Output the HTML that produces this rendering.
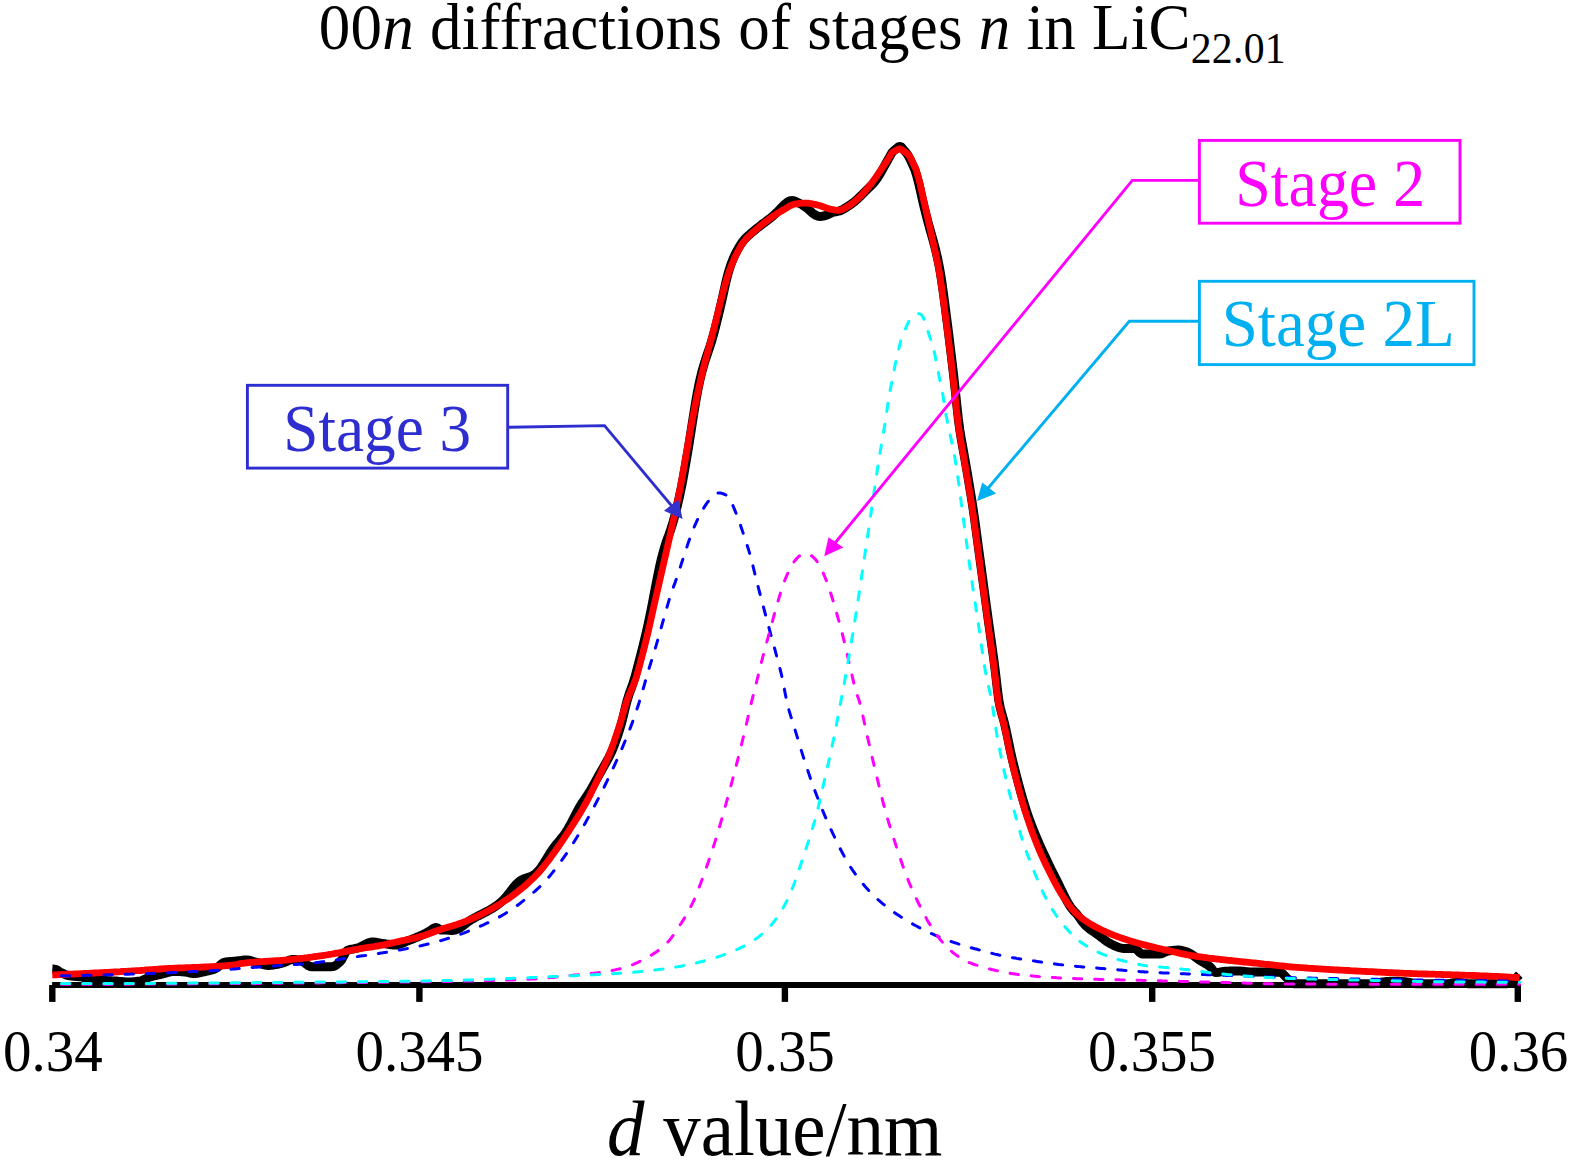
<!DOCTYPE html>
<html><head><meta charset="utf-8"><title>00n diffractions</title>
<style>
html,body{margin:0;padding:0;background:#fff;}
svg{display:block;}
text{font-family:"Liberation Serif",serif;}
</style></head>
<body>
<svg width="1570" height="1160" viewBox="0 0 1570 1160">
<rect width="1570" height="1160" fill="#fff"/>
<!-- axis -->
<g id="axis" stroke="#000" fill="none">
<line x1="52.1" y1="985" x2="1518" y2="985" stroke-width="6.2"/>
<line x1="52.3" y1="985" x2="52.3" y2="1001.9" stroke-width="6.4"/>
<line x1="419.4" y1="985" x2="419.4" y2="1001.9" stroke-width="6.4"/>
<line x1="784.9" y1="985" x2="784.9" y2="1001.9" stroke-width="6.4"/>
<line x1="1152.2" y1="985" x2="1152.2" y2="1001.9" stroke-width="6.4"/>
<line x1="1517.8" y1="985" x2="1517.8" y2="1001.9" stroke-width="6.4"/>
</g>
<!--CURVES-->
<g id="curves" fill="none" stroke-linejoin="round">
<path id="c-black" d="M52.3,969.0 L53.8,969.1 L55.3,969.4 L56.8,969.8 L58.3,970.8 L59.8,971.9 L61.3,972.7 L62.8,973.4 L64.3,974.1 L65.8,974.7 L67.3,975.3 L68.8,975.7 L70.3,975.9 L71.8,976.1 L73.3,976.2 L74.8,976.3 L76.3,976.4 L77.8,976.5 L79.3,976.7 L80.8,976.9 L82.3,977.2 L83.8,977.6 L85.3,978.0 L86.8,978.4 L88.3,978.8 L89.8,979.1 L91.3,979.5 L92.8,979.7 L94.3,979.9 L95.8,980.1 L97.3,980.2 L98.8,980.3 L100.3,980.3 L101.8,980.4 L103.3,980.5 L104.8,980.5 L106.3,980.6 L107.8,980.7 L109.3,980.7 L110.8,980.8 L112.3,980.9 L113.8,980.9 L115.3,981.0 L116.8,981.1 L118.3,981.3 L119.8,981.4 L121.3,981.5 L122.8,981.7 L124.3,981.8 L125.8,981.9 L127.3,982.0 L128.8,982.0 L130.3,982.0 L131.8,981.9 L133.3,981.8 L134.8,981.7 L136.3,981.5 L137.8,981.3 L139.3,981.1 L140.8,980.8 L142.3,980.4 L143.8,979.8 L145.3,979.0 L146.8,978.3 L148.3,977.6 L149.8,977.1 L151.3,976.6 L152.8,976.2 L154.3,975.9 L155.8,975.5 L157.3,975.2 L158.8,974.9 L160.3,974.5 L161.8,974.2 L163.3,973.7 L164.8,973.3 L166.3,972.9 L167.8,972.5 L169.3,972.1 L170.8,971.8 L172.3,971.6 L173.8,971.4 L175.3,971.4 L176.8,971.4 L178.3,971.5 L179.8,971.6 L181.3,971.7 L182.8,971.8 L184.3,971.9 L185.8,972.1 L187.3,972.4 L188.8,972.7 L190.3,973.1 L191.8,973.4 L193.3,973.6 L194.8,973.6 L196.3,973.4 L197.8,973.2 L199.3,972.9 L200.8,972.5 L202.3,972.2 L203.8,971.8 L205.3,971.5 L206.8,971.2 L208.3,970.9 L209.8,970.5 L211.3,970.1 L212.8,969.7 L214.3,969.2 L215.8,968.5 L217.3,967.6 L218.8,966.3 L220.3,965.0 L221.8,963.8 L223.3,962.8 L224.8,962.2 L226.3,962.0 L227.8,961.8 L229.3,961.7 L230.8,961.5 L232.3,961.4 L233.8,961.3 L235.3,961.2 L236.8,961.0 L238.3,960.8 L239.8,960.6 L241.3,960.4 L242.8,960.2 L244.3,960.1 L245.8,960.0 L247.3,960.0 L248.8,960.2 L250.3,960.5 L251.8,960.9 L253.3,961.4 L254.8,961.9 L256.3,962.3 L257.8,962.7 L259.3,963.2 L260.8,963.7 L262.3,964.2 L263.8,964.7 L265.3,965.1 L266.8,965.3 L268.3,965.4 L269.8,965.4 L271.3,965.2 L272.8,965.1 L274.3,964.8 L275.8,964.6 L277.3,964.3 L278.8,964.0 L280.3,963.6 L281.8,963.3 L283.3,962.8 L284.8,962.2 L286.3,961.6 L287.8,960.9 L289.3,960.3 L290.8,959.8 L292.3,959.5 L293.8,959.4 L295.3,959.5 L296.8,959.8 L298.3,960.1 L299.8,960.5 L301.3,961.0 L302.8,961.7 L304.3,962.6 L305.8,963.8 L307.3,964.9 L308.8,965.9 L310.3,966.5 L311.8,966.7 L313.3,966.7 L314.8,966.7 L316.3,966.7 L317.8,966.7 L319.3,966.7 L320.8,966.7 L322.3,966.7 L323.8,966.7 L325.3,966.7 L326.8,966.7 L328.3,966.7 L329.8,966.7 L331.3,966.7 L332.8,966.6 L334.3,966.2 L335.8,965.3 L337.3,964.2 L338.8,962.9 L340.3,961.5 L341.8,959.7 L343.3,956.8 L344.8,953.7 L346.3,951.3 L347.8,950.2 L349.3,949.7 L350.8,949.3 L352.3,949.1 L353.8,948.8 L355.3,948.5 L356.8,948.2 L358.3,947.7 L359.8,947.1 L361.3,946.4 L362.8,945.6 L364.3,944.8 L365.8,944.1 L367.3,943.3 L368.8,942.8 L370.3,942.3 L371.8,942.0 L373.3,942.0 L374.8,942.1 L376.3,942.3 L377.8,942.6 L379.3,942.9 L380.8,943.2 L382.3,943.4 L383.8,943.6 L385.3,943.8 L386.8,944.1 L388.3,944.3 L389.8,944.5 L391.3,944.7 L392.8,944.9 L394.3,945.0 L395.8,945.0 L397.3,944.9 L398.8,944.5 L400.3,944.0 L401.8,943.5 L403.3,942.8 L404.8,942.1 L406.3,941.4 L407.8,940.8 L409.3,940.2 L410.8,939.7 L412.3,939.1 L413.8,938.5 L415.3,937.9 L416.8,937.3 L418.3,936.7 L419.8,936.0 L421.3,935.4 L422.8,934.6 L424.3,933.9 L425.8,933.1 L427.3,932.3 L428.8,931.4 L430.3,930.6 L431.8,929.6 L433.3,928.5 L434.8,927.7 L436.3,927.5 L437.8,928.2 L439.3,929.3 L440.8,930.1 L442.3,930.1 L443.8,930.0 L445.3,930.0 L446.8,930.1 L448.3,930.2 L449.8,930.3 L451.3,930.4 L452.8,930.4 L454.3,930.2 L455.8,929.8 L457.3,929.3 L458.8,928.5 L460.3,927.7 L461.8,926.6 L463.3,925.5 L464.8,924.4 L466.3,923.2 L467.8,922.1 L469.3,921.1 L470.8,920.1 L472.3,919.1 L473.8,918.3 L475.3,917.4 L476.8,916.6 L478.3,915.8 L479.8,915.1 L481.3,914.3 L482.8,913.6 L484.3,912.8 L485.8,912.0 L487.3,911.2 L488.8,910.4 L490.3,909.6 L491.8,908.7 L493.3,907.8 L494.8,906.8 L496.3,905.8 L497.8,904.7 L499.3,903.5 L500.8,902.3 L502.3,900.9 L503.8,899.4 L505.3,897.7 L506.8,896.0 L508.3,894.1 L509.8,892.2 L511.3,890.2 L512.8,888.3 L514.3,886.4 L515.8,884.7 L517.3,883.2 L518.8,881.8 L520.3,880.7 L521.8,879.8 L523.3,879.1 L524.8,878.6 L526.3,878.1 L527.8,877.6 L529.3,877.1 L530.8,876.5 L532.3,875.8 L533.8,874.9 L535.3,873.8 L536.8,872.5 L538.3,870.9 L539.8,869.1 L541.3,867.1 L542.8,864.9 L544.3,862.5 L545.8,860.0 L547.3,857.5 L548.8,855.1 L550.3,852.7 L551.8,850.4 L553.3,848.3 L554.8,846.3 L556.3,844.4 L557.8,842.6 L559.3,840.8 L560.8,839.0 L562.3,837.1 L563.8,835.1 L565.3,833.0 L566.8,830.7 L568.3,828.2 L569.8,825.6 L571.3,822.8 L572.8,819.9 L574.3,816.9 L575.8,814.0 L577.3,811.1 L578.8,808.4 L580.3,805.8 L581.8,803.4 L583.3,801.2 L584.8,799.0 L586.3,796.8 L587.8,794.5 L589.3,792.2 L590.8,789.7 L592.3,787.1 L593.8,784.3 L595.3,781.6 L596.8,778.9 L598.3,776.2 L599.8,773.5 L601.3,770.9 L602.8,768.3 L604.3,765.6 L605.8,763.0 L607.3,760.3 L608.8,757.5 L610.3,754.5 L611.8,751.3 L613.3,747.7 L614.8,743.8 L616.3,739.6 L617.8,735.2 L619.3,730.7 L620.8,725.8 L622.3,720.3 L623.8,714.2 L625.3,707.8 L626.8,701.8 L628.3,696.7 L629.8,692.2 L631.3,688.1 L632.8,683.9 L634.3,679.2 L635.8,673.9 L637.3,668.2 L638.8,662.4 L640.3,656.6 L641.8,650.8 L643.3,644.8 L644.8,638.6 L646.3,632.3 L647.8,625.8 L649.3,618.8 L650.8,611.5 L652.3,603.8 L653.8,595.9 L655.3,588.0 L656.8,580.3 L658.3,572.9 L659.8,565.8 L661.3,559.4 L662.8,553.5 L664.3,548.1 L665.8,543.2 L667.3,538.9 L668.8,535.0 L670.3,530.8 L671.8,526.2 L673.3,521.2 L674.8,515.7 L676.3,509.9 L677.8,503.8 L679.3,497.4 L680.8,490.4 L682.3,482.9 L683.8,474.7 L685.3,466.2 L686.8,457.6 L688.3,448.7 L689.8,439.2 L691.3,429.5 L692.8,419.9 L694.3,410.4 L695.8,401.3 L697.3,392.8 L698.8,385.1 L700.3,378.2 L701.8,372.1 L703.3,366.7 L704.8,361.8 L706.3,357.2 L707.8,352.8 L709.3,348.4 L710.8,343.8 L712.3,338.9 L713.8,333.6 L715.3,327.9 L716.8,321.8 L718.3,315.7 L719.8,309.4 L721.3,302.9 L722.8,296.3 L724.3,289.4 L725.8,282.6 L727.3,276.4 L728.8,271.0 L730.3,266.3 L731.8,262.1 L733.3,258.4 L734.8,255.1 L736.3,252.1 L737.8,249.3 L739.3,246.7 L740.8,244.3 L742.3,242.1 L743.8,240.2 L745.3,238.5 L746.8,237.0 L748.3,235.6 L749.8,234.3 L751.3,233.0 L752.8,231.8 L754.3,230.5 L755.8,229.3 L757.3,228.1 L758.8,226.9 L760.3,225.7 L761.8,224.5 L763.3,223.4 L764.8,222.3 L766.3,221.2 L767.8,220.0 L769.3,218.9 L770.8,217.7 L772.3,216.5 L773.8,215.2 L775.3,213.8 L776.8,212.4 L778.3,210.9 L779.8,209.3 L781.3,207.8 L782.8,206.2 L784.3,204.7 L785.8,203.4 L787.3,202.2 L788.8,201.3 L790.3,200.8 L791.8,200.6 L793.3,200.7 L794.8,201.1 L796.3,201.8 L797.8,202.5 L799.3,203.3 L800.8,204.1 L802.3,204.9 L803.8,205.9 L805.3,206.9 L806.8,208.1 L808.3,209.3 L809.8,210.7 L811.3,212.0 L812.8,213.3 L814.3,214.4 L815.8,215.3 L817.3,215.9 L818.8,216.3 L820.3,216.4 L821.8,216.3 L823.3,216.1 L824.8,215.7 L826.3,215.2 L827.8,214.6 L829.3,213.9 L830.8,213.2 L832.3,212.6 L833.8,212.1 L835.3,211.8 L836.8,211.5 L838.3,211.2 L839.8,210.8 L841.3,210.2 L842.8,209.5 L844.3,208.6 L845.8,207.7 L847.3,206.7 L848.8,205.8 L850.3,204.8 L851.8,203.8 L853.3,202.6 L854.8,201.4 L856.3,200.1 L857.8,198.7 L859.3,197.3 L860.8,195.9 L862.3,194.4 L863.8,192.9 L865.3,191.4 L866.8,189.9 L868.3,188.4 L869.8,186.9 L871.3,185.5 L872.8,183.9 L874.3,182.2 L875.8,180.3 L877.3,178.2 L878.8,175.9 L880.3,173.4 L881.8,170.8 L883.3,168.1 L884.8,165.4 L886.3,162.7 L887.8,160.1 L889.3,157.4 L890.8,154.6 L892.3,152.2 L893.8,150.8 L895.3,149.6 L896.8,148.2 L898.3,147.0 L899.8,146.4 L901.3,147.0 L902.8,148.7 L904.3,150.6 L905.8,152.3 L907.3,154.2 L908.8,156.6 L910.3,159.7 L911.8,163.0 L913.3,166.1 L914.8,169.5 L916.3,174.3 L917.8,179.8 L919.3,185.7 L920.8,192.4 L922.3,199.2 L923.8,205.6 L925.3,211.8 L926.8,217.7 L928.3,223.3 L929.8,228.7 L931.3,234.0 L932.8,239.3 L934.3,244.8 L935.8,250.7 L937.3,257.0 L938.8,264.2 L940.3,272.3 L941.8,281.8 L943.3,292.4 L944.8,303.7 L946.3,315.3 L947.8,326.9 L949.3,338.9 L950.8,351.2 L952.3,363.8 L953.8,376.8 L955.3,390.4 L956.8,404.7 L958.3,418.6 L959.8,429.9 L961.3,439.1 L962.8,447.4 L964.3,455.7 L965.8,464.3 L967.3,473.1 L968.8,481.9 L970.3,490.9 L971.8,500.1 L973.3,510.0 L974.8,520.4 L976.3,531.3 L977.8,542.6 L979.3,553.8 L980.8,564.9 L982.3,575.9 L983.8,587.0 L985.3,598.1 L986.8,609.2 L988.3,620.1 L989.8,630.9 L991.3,641.5 L992.8,652.1 L994.3,663.1 L995.8,675.4 L997.3,688.6 L998.8,700.1 L1000.3,707.9 L1001.8,713.5 L1003.3,718.8 L1004.8,724.4 L1006.3,731.0 L1007.8,738.2 L1009.3,745.5 L1010.8,752.6 L1012.3,759.2 L1013.8,765.4 L1015.3,771.4 L1016.8,777.2 L1018.3,782.9 L1019.8,788.4 L1021.3,793.8 L1022.8,799.0 L1024.3,804.1 L1025.8,808.9 L1027.3,813.4 L1028.8,817.7 L1030.3,821.8 L1031.8,825.8 L1033.3,829.6 L1034.8,833.4 L1036.3,837.0 L1037.8,840.6 L1039.3,844.0 L1040.8,847.3 L1042.3,850.6 L1043.8,853.8 L1045.3,857.0 L1046.8,860.2 L1048.3,863.4 L1049.8,866.5 L1051.3,869.6 L1052.8,872.6 L1054.3,875.6 L1055.8,878.5 L1057.3,881.4 L1058.8,884.5 L1060.3,887.6 L1061.8,890.7 L1063.3,893.8 L1064.8,896.9 L1066.3,899.8 L1067.8,902.5 L1069.3,905.0 L1070.8,907.3 L1072.3,909.2 L1073.8,911.0 L1075.3,912.5 L1076.8,914.1 L1078.3,916.1 L1079.8,918.2 L1081.3,920.3 L1082.8,922.4 L1084.3,924.2 L1085.8,925.8 L1087.3,927.1 L1088.8,928.4 L1090.3,929.5 L1091.8,930.6 L1093.3,931.6 L1094.8,932.6 L1096.3,933.7 L1097.8,934.7 L1099.3,935.8 L1100.8,937.0 L1102.3,938.1 L1103.8,939.3 L1105.3,940.4 L1106.8,941.5 L1108.3,942.5 L1109.8,943.4 L1111.3,944.1 L1112.8,944.9 L1114.3,945.6 L1115.8,946.3 L1117.3,946.9 L1118.8,947.5 L1120.3,947.9 L1121.8,948.2 L1123.3,948.4 L1124.8,948.4 L1126.3,948.4 L1127.8,948.4 L1129.3,948.4 L1130.8,948.4 L1132.3,948.4 L1133.8,948.4 L1135.3,948.8 L1136.8,949.8 L1138.3,951.2 L1139.8,952.6 L1141.3,953.7 L1142.8,954.1 L1144.3,954.1 L1145.8,954.1 L1147.3,954.1 L1148.8,954.1 L1150.3,954.1 L1151.8,954.1 L1153.3,954.1 L1154.8,954.1 L1156.3,954.1 L1157.8,954.1 L1159.3,954.1 L1160.8,953.9 L1162.3,953.4 L1163.8,952.7 L1165.3,952.0 L1166.8,951.4 L1168.3,951.0 L1169.8,950.8 L1171.3,950.6 L1172.8,950.4 L1174.3,950.3 L1175.8,950.2 L1177.3,950.1 L1178.8,950.1 L1180.3,950.2 L1181.8,950.5 L1183.3,950.9 L1184.8,951.3 L1186.3,951.8 L1187.8,952.3 L1189.3,953.0 L1190.8,953.9 L1192.3,954.8 L1193.8,955.9 L1195.3,957.0 L1196.8,958.2 L1198.3,959.3 L1199.8,960.3 L1201.3,961.2 L1202.8,962.1 L1204.3,962.9 L1205.8,963.8 L1207.3,964.7 L1208.8,965.7 L1210.3,966.9 L1211.8,968.7 L1213.3,970.9 L1214.8,972.4 L1216.3,972.6 L1217.8,972.4 L1219.3,972.2 L1220.8,971.9 L1222.3,971.7 L1223.8,971.5 L1225.3,971.3 L1226.8,971.3 L1228.3,971.2 L1229.8,971.1 L1231.3,971.1 L1232.8,971.1 L1234.3,971.0 L1235.8,971.0 L1237.3,971.0 L1238.8,971.0 L1240.3,971.1 L1241.8,971.2 L1243.3,971.3 L1244.8,971.5 L1246.3,971.7 L1247.8,971.8 L1249.3,971.9 L1250.8,972.0 L1252.3,972.0 L1253.8,972.0 L1255.3,972.0 L1256.8,972.0 L1258.3,972.0 L1259.8,972.0 L1261.3,972.0 L1262.8,972.0 L1264.3,972.0 L1265.8,972.0 L1267.3,972.0 L1268.8,972.0 L1270.3,972.0 L1271.8,972.1 L1273.3,972.1 L1274.8,972.1 L1276.3,972.2 L1277.8,972.2 L1279.3,972.3 L1280.8,972.5 L1282.3,973.4 L1283.8,974.8 L1285.3,976.4 L1286.8,978.0 L1288.3,979.2 L1289.8,980.4 L1291.3,981.6 L1292.8,982.7 L1294.3,983.7 L1295.8,983.7 L1297.3,983.7 L1298.8,983.7 L1300.3,983.7 L1301.8,983.7 L1303.3,983.7 L1304.8,983.7 L1306.3,983.7 L1307.8,983.7 L1309.3,983.7 L1310.8,983.7 L1312.3,983.7 L1313.8,983.7 L1315.3,983.7 L1316.8,983.7 L1318.3,983.7 L1319.8,983.7 L1321.3,983.7 L1322.8,983.7 L1324.3,983.7 L1325.8,983.7 L1327.3,983.7 L1328.8,983.7 L1330.3,983.7 L1331.8,983.7 L1333.3,983.7 L1334.8,983.7 L1336.3,983.7 L1337.8,983.7 L1339.3,983.7 L1340.8,983.7 L1342.3,983.7 L1343.8,983.7 L1345.3,983.7 L1346.8,983.7 L1348.3,983.7 L1349.8,983.7 L1351.3,983.7 L1352.8,983.7 L1354.3,983.7 L1355.8,983.7 L1357.3,983.7 L1358.8,983.7 L1360.3,983.7 L1361.8,983.7 L1363.3,983.7 L1364.8,983.7 L1366.3,983.7 L1367.8,983.7 L1369.3,983.7 L1370.8,983.7 L1372.3,983.7 L1373.8,983.7 L1375.3,983.5 L1376.8,983.1 L1378.3,982.7 L1379.8,982.4 L1381.3,982.1 L1382.8,981.9 L1384.3,981.8 L1385.8,981.6 L1387.3,981.5 L1388.8,981.4 L1390.3,981.3 L1391.8,981.2 L1393.3,981.2 L1394.8,981.2 L1396.3,981.2 L1397.8,981.3 L1399.3,981.4 L1400.8,981.5 L1402.3,981.6 L1403.8,981.7 L1405.3,981.8 L1406.8,982.0 L1408.3,982.2 L1409.8,982.5 L1411.3,982.8 L1412.8,983.2 L1414.3,983.6 L1415.8,983.7 L1417.3,983.7 L1418.8,983.7 L1420.3,983.7 L1421.8,983.7 L1423.3,983.7 L1424.8,983.7 L1426.3,983.7 L1427.8,983.7 L1429.3,983.7 L1430.8,983.7 L1432.3,983.7 L1433.8,983.7 L1435.3,983.7 L1436.8,983.7 L1438.3,983.7 L1439.8,983.7 L1441.3,983.7 L1442.8,983.7 L1444.3,983.7 L1445.8,983.7 L1447.3,983.7 L1448.8,983.7 L1450.3,983.3 L1451.8,983.0 L1453.3,982.8 L1454.8,982.7 L1456.3,982.6 L1457.8,982.5 L1459.3,982.5 L1460.8,982.6 L1462.3,982.8 L1463.8,983.0 L1465.3,983.2 L1466.8,983.6 L1468.3,983.7 L1469.8,983.7 L1471.3,983.7 L1472.8,983.7 L1474.3,983.7 L1475.8,983.7 L1477.3,983.7 L1478.8,983.7 L1480.3,983.7 L1481.8,983.7 L1483.3,983.7 L1484.8,983.7 L1486.3,983.7 L1487.8,983.7 L1489.3,983.7 L1490.8,983.7 L1492.3,983.7 L1493.8,983.7 L1495.3,983.7 L1496.8,983.7 L1498.3,983.7 L1499.8,983.7 L1501.3,983.7 L1502.8,983.7 L1504.3,983.7 L1505.8,983.7 L1507.3,983.7 L1508.8,983.3 L1510.3,982.9 L1511.8,982.0 L1513.3,980.7 L1514.8,979.2 L1516.3,977.7 L1517.8,976.3 L1519.3,974.7" stroke="#000" stroke-width="9" stroke-linecap="butt"/>
<path id="c-red" d="M52.3,975.0 L54.3,974.9 L56.3,974.8 L58.3,974.7 L60.3,974.6 L62.3,974.5 L64.3,974.4 L66.3,974.3 L68.3,974.2 L70.3,974.2 L72.3,974.1 L74.3,974.0 L76.3,973.9 L78.3,973.8 L80.3,973.7 L82.3,973.6 L84.3,973.5 L86.3,973.4 L88.3,973.3 L90.3,973.2 L92.3,973.1 L94.3,973.0 L96.3,972.9 L98.3,972.8 L100.3,972.7 L102.3,972.6 L104.3,972.5 L106.3,972.4 L108.3,972.3 L110.3,972.2 L112.3,972.1 L114.3,972.0 L116.3,971.9 L118.3,971.8 L120.3,971.7 L122.3,971.5 L124.3,971.4 L126.3,971.3 L128.3,971.2 L130.3,971.1 L132.3,971.0 L134.3,970.9 L136.3,970.7 L138.3,970.6 L140.3,970.5 L142.3,970.3 L144.3,970.2 L146.3,970.0 L148.3,969.9 L150.3,969.7 L152.3,969.6 L154.3,969.4 L156.3,969.3 L158.3,969.1 L160.3,969.0 L162.3,968.9 L164.3,968.7 L166.3,968.6 L168.3,968.5 L170.3,968.4 L172.3,968.3 L174.3,968.2 L176.3,968.1 L178.3,968.0 L180.3,967.9 L182.3,967.9 L184.3,967.8 L186.3,967.7 L188.3,967.6 L190.3,967.6 L192.3,967.5 L194.3,967.4 L196.3,967.3 L198.3,967.3 L200.3,967.2 L202.3,967.1 L204.3,967.0 L206.3,966.9 L208.3,966.8 L210.3,966.7 L212.3,966.6 L214.3,966.5 L216.3,966.3 L218.3,966.2 L220.3,966.1 L222.3,965.9 L224.3,965.8 L226.3,965.6 L228.3,965.5 L230.3,965.3 L232.3,965.1 L234.3,964.8 L236.3,964.5 L238.3,964.1 L240.3,963.7 L242.3,963.4 L244.3,963.1 L246.3,962.8 L248.3,962.6 L250.3,962.4 L252.3,962.3 L254.3,962.1 L256.3,962.0 L258.3,961.8 L260.3,961.7 L262.3,961.6 L264.3,961.5 L266.3,961.4 L268.3,961.2 L270.3,961.1 L272.3,961.0 L274.3,960.9 L276.3,960.7 L278.3,960.6 L280.3,960.5 L282.3,960.3 L284.3,960.1 L286.3,960.0 L288.3,959.8 L290.3,959.6 L292.3,959.4 L294.3,959.2 L296.3,959.0 L298.3,958.7 L300.3,958.5 L302.3,958.3 L304.3,958.0 L306.3,957.8 L308.3,957.5 L310.3,957.3 L312.3,957.0 L314.3,956.7 L316.3,956.5 L318.3,956.2 L320.3,955.9 L322.3,955.6 L324.3,955.3 L326.3,955.0 L328.3,954.7 L330.3,954.3 L332.3,954.0 L334.3,953.6 L336.3,953.2 L338.3,952.9 L340.3,952.5 L342.3,952.1 L344.3,951.7 L346.3,951.3 L348.3,950.9 L350.3,950.5 L352.3,950.1 L354.3,949.7 L356.3,949.4 L358.3,949.0 L360.3,948.7 L362.3,948.3 L364.3,948.0 L366.3,947.7 L368.3,947.4 L370.3,947.1 L372.3,946.8 L374.3,946.5 L376.3,946.1 L378.3,945.8 L380.3,945.4 L382.3,945.1 L384.3,944.7 L386.3,944.2 L388.3,943.8 L390.3,943.4 L392.3,942.9 L394.3,942.5 L396.3,942.0 L398.3,941.6 L400.3,941.1 L402.3,940.7 L404.3,940.3 L406.3,939.9 L408.3,939.4 L410.3,939.0 L412.3,938.6 L414.3,938.1 L416.3,937.6 L418.3,937.1 L420.3,936.6 L422.3,936.0 L424.3,935.4 L426.3,934.7 L428.3,934.0 L430.3,933.2 L432.3,932.5 L434.3,931.7 L436.3,931.0 L438.3,930.3 L440.3,929.6 L442.3,928.9 L444.3,928.3 L446.3,927.7 L448.3,927.1 L450.3,926.5 L452.3,925.9 L454.3,925.3 L456.3,924.7 L458.3,924.0 L460.3,923.3 L462.3,922.6 L464.3,921.8 L466.3,921.1 L468.3,920.2 L470.3,919.4 L472.3,918.5 L474.3,917.6 L476.3,916.7 L478.3,915.7 L480.3,914.8 L482.3,913.8 L484.3,912.8 L486.3,911.8 L488.3,910.7 L490.3,909.6 L492.3,908.5 L494.3,907.3 L496.3,906.2 L498.3,905.0 L500.3,903.8 L502.3,902.5 L504.3,901.2 L506.3,899.9 L508.3,898.6 L510.3,897.2 L512.3,895.8 L514.3,894.3 L516.3,892.8 L518.3,891.2 L520.3,889.6 L522.3,888.0 L524.3,886.3 L526.3,884.6 L528.3,882.8 L530.3,880.9 L532.3,879.0 L534.3,877.1 L536.3,875.0 L538.3,872.9 L540.3,870.6 L542.3,868.3 L544.3,865.8 L546.3,863.2 L548.3,860.6 L550.3,857.9 L552.3,855.1 L554.3,852.4 L556.3,849.6 L558.3,846.8 L560.3,843.9 L562.3,840.9 L564.3,837.9 L566.3,834.9 L568.3,831.8 L570.3,828.7 L572.3,825.5 L574.3,822.4 L576.3,819.2 L578.3,816.0 L580.3,812.8 L582.3,809.4 L584.3,805.9 L586.3,802.3 L588.3,798.5 L590.3,794.6 L592.3,790.6 L594.3,786.5 L596.3,782.3 L598.3,778.1 L600.3,773.9 L602.3,769.7 L604.3,765.5 L606.3,761.1 L608.3,756.6 L610.3,751.7 L612.3,746.6 L614.3,741.1 L616.3,735.2 L618.3,729.2 L620.3,722.9 L622.3,716.0 L624.3,709.0 L626.3,702.4 L628.3,696.8 L630.3,692.1 L632.3,687.7 L634.3,682.9 L636.3,677.1 L638.3,670.2 L640.3,662.7 L642.3,655.1 L644.3,647.4 L646.3,639.4 L648.3,631.1 L650.3,622.3 L652.3,613.3 L654.3,604.3 L656.3,595.5 L658.3,586.7 L660.3,578.0 L662.3,569.3 L664.3,560.6 L666.3,551.8 L668.3,543.0 L670.3,534.2 L672.3,525.3 L674.3,516.2 L676.3,506.9 L678.3,497.3 L680.3,487.2 L682.3,476.4 L684.3,465.1 L686.3,453.7 L688.3,442.1 L690.3,430.6 L692.3,419.8 L694.3,409.5 L696.3,399.7 L698.3,390.4 L700.3,381.4 L702.3,372.8 L704.3,364.6 L706.3,357.0 L708.3,349.7 L710.3,342.4 L712.3,335.0 L714.3,327.1 L716.3,319.0 L718.3,310.8 L720.3,302.8 L722.3,295.2 L724.3,287.5 L726.3,280.3 L728.3,274.0 L730.3,268.4 L732.3,263.3 L734.3,258.6 L736.3,254.5 L738.3,250.6 L740.3,247.1 L742.3,243.8 L744.3,241.1 L746.3,238.7 L748.3,236.6 L750.3,234.7 L752.3,232.9 L754.3,231.1 L756.3,229.3 L758.3,227.6 L760.3,225.9 L762.3,224.3 L764.3,222.7 L766.3,221.2 L768.3,219.7 L770.3,218.3 L772.3,216.9 L774.3,215.5 L776.3,214.2 L778.3,212.9 L780.3,211.7 L782.3,210.5 L784.3,209.3 L786.3,208.1 L788.3,206.9 L790.3,205.7 L792.3,204.8 L794.3,204.1 L796.3,203.8 L798.3,203.5 L800.3,203.3 L802.3,203.2 L804.3,203.1 L806.3,203.1 L808.3,203.2 L810.3,203.5 L812.3,203.9 L814.3,204.3 L816.3,204.7 L818.3,205.2 L820.3,205.8 L822.3,206.5 L824.3,207.2 L826.3,208.0 L828.3,208.6 L830.3,209.1 L832.3,209.5 L834.3,209.9 L836.3,210.2 L838.3,210.3 L840.3,210.1 L842.3,209.5 L844.3,208.5 L846.3,207.3 L848.3,206.1 L850.3,204.8 L852.3,203.4 L854.3,201.8 L856.3,200.1 L858.3,198.2 L860.3,196.3 L862.3,194.3 L864.3,192.1 L866.3,189.7 L868.3,187.3 L870.3,184.8 L872.3,182.2 L874.3,179.5 L876.3,176.6 L878.3,173.7 L880.3,170.8 L882.3,167.9 L884.3,164.9 L886.3,161.8 L888.3,158.8 L890.3,155.5 L892.3,152.4 L894.3,151.3 L896.3,150.3 L898.3,149.3 L900.3,148.8 L902.3,150.1 L904.3,151.5 L906.3,153.0 L908.3,154.6 L910.3,157.5 L912.3,161.6 L914.3,165.8 L916.3,170.2 L918.3,177.3 L920.3,184.7 L922.3,193.9 L924.3,202.7 L926.3,211.5 L928.3,220.5 L930.3,229.6 L932.3,238.7 L934.3,247.5 L936.3,256.6 L938.3,266.6 L940.3,278.2 L942.3,291.9 L944.3,307.0 L946.3,322.3 L948.3,338.0 L950.3,354.3 L952.3,371.2 L954.3,388.8 L956.3,407.9 L958.3,425.2 L960.3,438.0 L962.3,449.0 L964.3,460.2 L966.3,472.0 L968.3,483.7 L970.3,495.8 L972.3,508.6 L974.3,522.6 L976.3,537.3 L978.3,552.3 L980.3,567.1 L982.3,581.8 L984.3,596.6 L986.3,611.4 L988.3,625.9 L990.3,640.1 L992.3,654.3 L994.3,669.3 L996.3,686.8 L998.3,702.2 L1000.3,711.1 L1002.3,718.2 L1004.3,725.9 L1006.3,735.4 L1008.3,745.3 L1010.3,754.8 L1012.3,763.4 L1014.3,771.6 L1016.3,779.4 L1018.3,787.0 L1020.3,794.3 L1022.3,801.4 L1024.3,808.2 L1026.3,814.7 L1028.3,820.8 L1030.3,826.7 L1032.3,832.3 L1034.3,837.6 L1036.3,842.7 L1038.3,847.6 L1040.3,852.3 L1042.3,856.9 L1044.3,861.2 L1046.3,865.5 L1048.3,869.6 L1050.3,873.6 L1052.3,877.5 L1054.3,881.4 L1056.3,885.2 L1058.3,888.8 L1060.3,892.2 L1062.3,895.4 L1064.3,898.5 L1066.3,901.4 L1068.3,904.2 L1070.3,906.8 L1072.3,909.3 L1074.3,911.5 L1076.3,913.5 L1078.3,915.3 L1080.3,916.9 L1082.3,918.5 L1084.3,920.0 L1086.3,921.3 L1088.3,922.7 L1090.3,923.9 L1092.3,925.1 L1094.3,926.2 L1096.3,927.3 L1098.3,928.3 L1100.3,929.3 L1102.3,930.3 L1104.3,931.2 L1106.3,932.1 L1108.3,932.9 L1110.3,933.8 L1112.3,934.6 L1114.3,935.4 L1116.3,936.1 L1118.3,936.9 L1120.3,937.6 L1122.3,938.3 L1124.3,939.0 L1126.3,939.6 L1128.3,940.3 L1130.3,940.9 L1132.3,941.5 L1134.3,942.1 L1136.3,942.7 L1138.3,943.3 L1140.3,943.8 L1142.3,944.4 L1144.3,944.9 L1146.3,945.4 L1148.3,945.9 L1150.3,946.4 L1152.3,946.9 L1154.3,947.4 L1156.3,947.9 L1158.3,948.3 L1160.3,948.8 L1162.3,949.2 L1164.3,949.7 L1166.3,950.1 L1168.3,950.6 L1170.3,951.0 L1172.3,951.5 L1174.3,952.0 L1176.3,952.4 L1178.3,952.9 L1180.3,953.4 L1182.3,953.8 L1184.3,954.2 L1186.3,954.6 L1188.3,955.0 L1190.3,955.4 L1192.3,955.7 L1194.3,956.0 L1196.3,956.3 L1198.3,956.6 L1200.3,956.9 L1202.3,957.2 L1204.3,957.5 L1206.3,957.7 L1208.3,958.0 L1210.3,958.3 L1212.3,958.5 L1214.3,958.7 L1216.3,959.0 L1218.3,959.2 L1220.3,959.5 L1222.3,959.7 L1224.3,959.9 L1226.3,960.1 L1228.3,960.3 L1230.3,960.5 L1232.3,960.7 L1234.3,961.0 L1236.3,961.2 L1238.3,961.4 L1240.3,961.6 L1242.3,961.8 L1244.3,962.0 L1246.3,962.2 L1248.3,962.4 L1250.3,962.6 L1252.3,962.8 L1254.3,963.0 L1256.3,963.2 L1258.3,963.4 L1260.3,963.6 L1262.3,963.8 L1264.3,964.1 L1266.3,964.3 L1268.3,964.5 L1270.3,964.7 L1272.3,964.9 L1274.3,965.2 L1276.3,965.4 L1278.3,965.6 L1280.3,965.8 L1282.3,966.0 L1284.3,966.2 L1286.3,966.4 L1288.3,966.6 L1290.3,966.8 L1292.3,967.0 L1294.3,967.1 L1296.3,967.3 L1298.3,967.4 L1300.3,967.6 L1302.3,967.7 L1304.3,967.9 L1306.3,968.0 L1308.3,968.2 L1310.3,968.3 L1312.3,968.4 L1314.3,968.6 L1316.3,968.7 L1318.3,968.8 L1320.3,968.9 L1322.3,969.1 L1324.3,969.2 L1326.3,969.3 L1328.3,969.4 L1330.3,969.6 L1332.3,969.7 L1334.3,969.8 L1336.3,969.9 L1338.3,970.0 L1340.3,970.1 L1342.3,970.2 L1344.3,970.3 L1346.3,970.4 L1348.3,970.5 L1350.3,970.7 L1352.3,970.8 L1354.3,970.9 L1356.3,971.0 L1358.3,971.1 L1360.3,971.2 L1362.3,971.3 L1364.3,971.4 L1366.3,971.5 L1368.3,971.6 L1370.3,971.6 L1372.3,971.7 L1374.3,971.9 L1376.3,972.0 L1378.3,972.1 L1380.3,972.2 L1382.3,972.3 L1384.3,972.4 L1386.3,972.5 L1388.3,972.6 L1390.3,972.6 L1392.3,972.7 L1394.3,972.8 L1396.3,972.9 L1398.3,973.0 L1400.3,973.1 L1402.3,973.2 L1404.3,973.3 L1406.3,973.4 L1408.3,973.4 L1410.3,973.5 L1412.3,973.6 L1414.3,973.6 L1416.3,973.7 L1418.3,973.8 L1420.3,973.8 L1422.3,973.9 L1424.3,974.0 L1426.3,974.0 L1428.3,974.1 L1430.3,974.1 L1432.3,974.2 L1434.3,974.2 L1436.3,974.3 L1438.3,974.4 L1440.3,974.4 L1442.3,974.5 L1444.3,974.6 L1446.3,974.6 L1448.3,974.7 L1450.3,974.7 L1452.3,974.8 L1454.3,974.9 L1456.3,974.9 L1458.3,975.0 L1460.3,975.1 L1462.3,975.1 L1464.3,975.2 L1466.3,975.3 L1468.3,975.3 L1470.3,975.4 L1472.3,975.5 L1474.3,975.5 L1476.3,975.6 L1478.3,975.7 L1480.3,975.8 L1482.3,975.8 L1484.3,975.9 L1486.3,976.0 L1488.3,976.1 L1490.3,976.2 L1492.3,976.3 L1494.3,976.4 L1496.3,976.5 L1498.3,976.5 L1500.3,976.6 L1502.3,976.7 L1504.3,976.9 L1506.3,977.0 L1508.3,977.1 L1510.3,977.2 L1512.3,977.3 L1514.3,977.4 L1516.3,977.5 L1518.3,977.6 L1519.6,977.7" stroke="#ff0000" stroke-width="6.8" stroke-linecap="butt"/>
<path id="c-blue" d="M52.9,976.0 L54.9,976.0 L56.9,975.9 L58.9,975.9 L60.9,975.9 L62.9,975.8 L64.9,975.8 L66.9,975.8 L68.9,975.7 L70.9,975.7 L72.9,975.7 L74.9,975.6 L76.9,975.6 L78.9,975.5 L80.9,975.5 L82.9,975.4 L84.9,975.4 L86.9,975.3 L88.9,975.3 L90.9,975.3 L92.9,975.2 L94.9,975.2 L96.9,975.1 L98.9,975.0 L100.9,975.0 L102.9,974.9 L104.9,974.9 L106.9,974.8 L108.9,974.8 L110.9,974.7 L112.9,974.7 L114.9,974.6 L116.9,974.6 L118.9,974.5 L120.9,974.4 L122.9,974.4 L124.9,974.3 L126.9,974.3 L128.9,974.2 L130.9,974.1 L132.9,974.1 L134.9,974.0 L136.9,973.9 L138.9,973.9 L140.9,973.8 L142.9,973.7 L144.9,973.7 L146.9,973.6 L148.9,973.5 L150.9,973.5 L152.9,973.4 L154.9,973.3 L156.9,973.2 L158.9,973.1 L160.9,973.1 L162.9,973.0 L164.9,972.9 L166.9,972.8 L168.9,972.7 L170.9,972.7 L172.9,972.6 L174.9,972.5 L176.9,972.4 L178.9,972.3 L180.9,972.2 L182.9,972.1 L184.9,972.0 L186.9,971.9 L188.9,971.8 L190.9,971.7 L192.9,971.6 L194.9,971.5 L196.9,971.4 L198.9,971.3 L200.9,971.2 L202.9,971.1 L204.9,971.0 L206.9,970.9 L208.9,970.8 L210.9,970.7 L212.9,970.5 L214.9,970.4 L216.9,970.3 L218.9,970.1 L220.9,970.0 L222.9,969.9 L224.9,969.7 L226.9,969.6 L228.9,969.4 L230.9,969.2 L232.9,969.1 L234.9,968.9 L236.9,968.8 L238.9,968.6 L240.9,968.5 L242.9,968.3 L244.9,968.1 L246.9,968.0 L248.9,967.8 L250.9,967.6 L252.9,967.5 L254.9,967.3 L256.9,967.2 L258.9,967.0 L260.9,966.9 L262.9,966.7 L264.9,966.6 L266.9,966.5 L268.9,966.3 L270.9,966.2 L272.9,966.0 L274.9,965.9 L276.9,965.8 L278.9,965.6 L280.9,965.5 L282.9,965.4 L284.9,965.2 L286.9,965.1 L288.9,965.0 L290.9,964.8 L292.9,964.7 L294.9,964.5 L296.9,964.4 L298.9,964.2 L300.9,964.0 L302.9,963.9 L304.9,963.7 L306.9,963.5 L308.9,963.3 L310.9,963.1 L312.9,962.9 L314.9,962.7 L316.9,962.5 L318.9,962.3 L320.9,962.0 L322.9,961.7 L324.9,961.5 L326.9,961.2 L328.9,960.9 L330.9,960.6 L332.9,960.4 L334.9,960.1 L336.9,959.8 L338.9,959.4 L340.9,959.1 L342.9,958.8 L344.9,958.5 L346.9,958.2 L348.9,957.9 L350.9,957.6 L352.9,957.3 L354.9,957.0 L356.9,956.7 L358.9,956.3 L360.9,956.0 L362.9,955.7 L364.9,955.5 L366.9,955.2 L368.9,954.9 L370.9,954.6 L372.9,954.3 L374.9,954.0 L376.9,953.7 L378.9,953.4 L380.9,953.1 L382.9,952.8 L384.9,952.4 L386.9,952.1 L388.9,951.8 L390.9,951.5 L392.9,951.1 L394.9,950.8 L396.9,950.4 L398.9,950.1 L400.9,949.7 L402.9,949.4 L404.9,949.0 L406.9,948.6 L408.9,948.2 L410.9,947.8 L412.9,947.4 L414.9,947.0 L416.9,946.6 L418.9,946.1 L420.9,945.7 L422.9,945.2 L424.9,944.8 L426.9,944.3 L428.9,943.8 L430.9,943.3 L432.9,942.8 L434.9,942.3 L436.9,941.8 L438.9,941.2 L440.9,940.6 L442.9,940.0 L444.9,939.4 L446.9,938.8 L448.9,938.2 L450.9,937.5 L452.9,936.9 L454.9,936.2 L456.9,935.5 L458.9,934.8 L460.9,934.1 L462.9,933.4 L464.9,932.6 L466.9,931.8 L468.9,931.0 L470.9,930.2 L472.9,929.4 L474.9,928.6 L476.9,927.7 L478.9,926.8 L480.9,925.9 L482.9,925.1 L484.9,924.1 L486.9,923.2 L488.9,922.3 L490.9,921.3 L492.9,920.3 L494.9,919.3 L496.9,918.3 L498.9,917.2 L500.9,916.1 L502.9,915.0 L504.9,913.8 L506.9,912.5 L508.9,911.2 L510.9,909.9 L512.9,908.5 L514.9,907.1 L516.9,905.7 L518.9,904.2 L520.9,902.7 L522.9,901.1 L524.9,899.6 L526.9,898.0 L528.9,896.4 L530.9,894.7 L532.9,893.0 L534.9,891.3 L536.9,889.4 L538.9,887.6 L540.9,885.6 L542.9,883.6 L544.9,881.5 L546.9,879.3 L548.9,877.0 L550.9,874.6 L552.9,872.1 L554.9,869.5 L556.9,866.9 L558.9,864.2 L560.9,861.5 L562.9,858.7 L564.9,855.9 L566.9,853.0 L568.9,850.0 L570.9,846.9 L572.9,843.7 L574.9,840.5 L576.9,837.3 L578.9,833.9 L580.9,830.6 L582.9,827.2 L584.9,823.7 L586.9,820.1 L588.9,816.4 L590.9,812.7 L592.9,809.0 L594.9,805.2 L596.9,801.3 L598.9,797.5 L600.9,793.5 L602.9,789.5 L604.9,785.5 L606.9,781.4 L608.9,777.2 L610.9,773.0 L612.9,768.8 L614.9,764.4 L616.9,760.0 L618.9,755.5 L620.9,751.0 L622.9,746.3 L624.9,741.5 L626.9,736.6 L628.9,731.6 L630.9,726.4 L632.9,721.0 L634.9,715.3 L636.9,709.3 L638.9,703.2 L640.9,696.7 L642.9,689.9 L644.9,682.8 L646.9,675.7 L648.9,669.0 L650.9,662.5 L652.9,656.2 L654.9,649.7 L656.9,642.9 L658.9,635.9 L660.9,628.8 L662.9,621.7 L664.9,614.7 L666.9,607.5 L668.9,600.6 L670.9,594.1 L672.9,588.4 L674.9,583.1 L676.9,577.6 L678.9,571.6 L680.9,565.3 L682.9,559.1 L684.9,553.0 L686.9,546.9 L688.9,541.0 L690.9,535.5 L692.9,530.3 L694.9,525.3 L696.9,520.8 L698.9,516.7 L700.9,513.0 L702.9,509.4 L704.9,506.1 L706.9,503.1 L708.9,500.6 L710.9,498.5 L712.9,496.4 L714.9,494.5 L716.9,493.3 L718.9,492.9 L720.9,493.1 L722.9,493.7 L724.9,494.5 L726.9,495.5 L728.9,497.9 L730.9,501.4 L732.9,505.5 L734.9,510.3 L736.9,515.4 L738.9,520.7 L740.9,526.4 L742.9,532.4 L744.9,538.4 L746.9,544.5 L748.9,550.8 L750.9,557.7 L752.9,565.7 L754.9,574.1 L756.9,582.0 L758.9,589.7 L760.9,597.3 L762.9,604.9 L764.9,612.5 L766.9,620.1 L768.9,627.5 L770.9,634.8 L772.9,642.1 L774.9,649.5 L776.9,657.1 L778.9,664.5 L780.9,672.3 L782.9,681.0 L784.9,691.9 L786.9,702.1 L788.9,709.9 L790.9,716.6 L792.9,722.9 L794.9,729.3 L796.9,735.9 L798.9,742.6 L800.9,749.2 L802.9,755.6 L804.9,761.9 L806.9,767.9 L808.9,773.8 L810.9,779.6 L812.9,785.2 L814.9,790.7 L816.9,796.0 L818.9,801.2 L820.9,806.2 L822.9,811.1 L824.9,815.9 L826.9,820.5 L828.9,825.1 L830.9,829.5 L832.9,833.7 L834.9,837.9 L836.9,842.0 L838.9,846.0 L840.9,850.0 L842.9,853.8 L844.9,857.5 L846.9,861.1 L848.9,864.4 L850.9,867.6 L852.9,870.6 L854.9,873.4 L856.9,876.2 L858.9,878.9 L860.9,881.4 L862.9,883.9 L864.9,886.3 L866.9,888.5 L868.9,890.7 L870.9,892.8 L872.9,894.8 L874.9,896.7 L876.9,898.6 L878.9,900.4 L880.9,902.1 L882.9,903.8 L884.9,905.4 L886.9,907.0 L888.9,908.6 L890.9,910.0 L892.9,911.5 L894.9,912.9 L896.9,914.3 L898.9,915.6 L900.9,916.9 L902.9,918.2 L904.9,919.5 L906.9,920.7 L908.9,921.9 L910.9,923.0 L912.9,924.1 L914.9,925.2 L916.9,926.3 L918.9,927.4 L920.9,928.4 L922.9,929.4 L924.9,930.4 L926.9,931.4 L928.9,932.4 L930.9,933.3 L932.9,934.2 L934.9,935.1 L936.9,936.0 L938.9,936.8 L940.9,937.7 L942.9,938.5 L944.9,939.2 L946.9,940.0 L948.9,940.7 L950.9,941.4 L952.9,942.1 L954.9,942.8 L956.9,943.4 L958.9,944.1 L960.9,944.7 L962.9,945.3 L964.9,945.9 L966.9,946.5 L968.9,947.1 L970.9,947.6 L972.9,948.2 L974.9,948.8 L976.9,949.3 L978.9,949.9 L980.9,950.4 L982.9,951.0 L984.9,951.5 L986.9,952.0 L988.9,952.6 L990.9,953.1 L992.9,953.6 L994.9,954.1 L996.9,954.5 L998.9,955.0 L1000.9,955.4 L1002.9,955.8 L1004.9,956.2 L1006.9,956.6 L1008.9,957.0 L1010.9,957.4 L1012.9,957.7 L1014.9,958.0 L1016.9,958.4 L1018.9,958.7 L1020.9,959.0 L1022.9,959.3 L1024.9,959.6 L1026.9,959.9 L1028.9,960.2 L1030.9,960.5 L1032.9,960.8 L1034.9,961.1 L1036.9,961.4 L1038.9,961.7 L1040.9,962.0 L1042.9,962.3 L1044.9,962.6 L1046.9,962.9 L1048.9,963.1 L1050.9,963.4 L1052.9,963.7 L1054.9,963.9 L1056.9,964.2 L1058.9,964.5 L1060.9,964.7 L1062.9,964.9 L1064.9,965.2 L1066.9,965.4 L1068.9,965.6 L1070.9,965.8 L1072.9,966.0 L1074.9,966.2 L1076.9,966.4 L1078.9,966.6 L1080.9,966.7 L1082.9,966.9 L1084.9,967.1 L1086.9,967.2 L1088.9,967.4 L1090.9,967.6 L1092.9,967.7 L1094.9,967.9 L1096.9,968.0 L1098.9,968.2 L1100.9,968.4 L1102.9,968.5 L1104.9,968.7 L1106.9,968.9 L1108.9,969.0 L1110.9,969.2 L1112.9,969.4 L1114.9,969.6 L1116.9,969.7 L1118.9,969.9 L1120.9,970.1 L1122.9,970.3 L1124.9,970.5 L1126.9,970.6 L1128.9,970.8 L1130.9,970.9 L1132.9,971.1 L1134.9,971.3 L1136.9,971.4 L1138.9,971.5 L1140.9,971.7 L1142.9,971.8 L1144.9,971.9 L1146.9,972.0 L1148.9,972.1 L1150.9,972.2 L1152.9,972.3 L1154.9,972.5 L1156.9,972.6 L1158.9,972.7 L1160.9,972.8 L1162.9,972.9 L1164.9,973.0 L1166.9,973.1 L1168.9,973.1 L1170.9,973.2 L1172.9,973.3 L1174.9,973.4 L1176.9,973.5 L1178.9,973.6 L1180.9,973.7 L1182.9,973.8 L1184.9,973.8 L1186.9,973.9 L1188.9,974.0 L1190.9,974.1 L1192.9,974.2 L1194.9,974.3 L1196.9,974.3 L1198.9,974.4 L1200.9,974.5 L1202.9,974.6 L1204.9,974.6 L1206.9,974.7 L1208.9,974.8 L1210.9,974.8 L1212.9,974.9 L1214.9,975.0 L1216.9,975.1 L1218.9,975.1 L1220.9,975.2 L1222.9,975.3 L1224.9,975.3 L1226.9,975.4 L1228.9,975.5 L1230.9,975.5 L1232.9,975.6 L1234.9,975.7 L1236.9,975.7 L1238.9,975.8 L1240.9,975.9 L1242.9,975.9 L1244.9,976.0 L1246.9,976.1 L1248.9,976.2 L1250.9,976.2 L1252.9,976.3 L1254.9,976.4 L1256.9,976.5 L1258.9,976.5 L1260.9,976.6 L1262.9,976.7 L1264.9,976.8 L1266.9,976.8 L1268.9,976.9 L1270.9,977.0 L1272.9,977.1 L1274.9,977.1 L1276.9,977.2 L1278.9,977.3 L1280.9,977.3 L1282.9,977.4 L1284.9,977.5 L1286.9,977.5 L1288.9,977.6 L1290.9,977.6 L1292.9,977.7 L1294.9,977.8 L1296.9,977.8 L1298.9,977.9 L1300.9,977.9 L1302.9,977.9 L1304.9,978.0 L1306.9,978.0 L1308.9,978.1 L1310.9,978.1 L1312.9,978.2 L1314.9,978.2 L1316.9,978.3 L1318.9,978.3 L1320.9,978.3 L1322.9,978.4 L1324.9,978.4 L1326.9,978.5 L1328.9,978.5 L1330.9,978.5 L1332.9,978.6 L1334.9,978.6 L1336.9,978.6 L1338.9,978.7 L1340.9,978.7 L1342.9,978.8 L1344.9,978.8 L1346.9,978.8 L1348.9,978.9 L1350.9,978.9 L1352.9,978.9 L1354.9,979.0 L1356.9,979.0 L1358.9,979.0 L1360.9,979.1 L1362.9,979.1 L1364.9,979.1 L1366.9,979.2 L1368.9,979.2 L1370.9,979.2 L1372.9,979.3 L1374.9,979.3 L1376.9,979.3 L1378.9,979.4 L1380.9,979.4 L1382.9,979.4 L1384.9,979.5 L1386.9,979.5 L1388.9,979.5 L1390.9,979.5 L1392.9,979.6 L1394.9,979.6 L1396.9,979.6 L1398.9,979.7 L1400.9,979.7 L1402.9,979.7 L1404.9,979.8 L1406.9,979.8 L1408.9,979.8 L1410.9,979.8 L1412.9,979.9 L1414.9,979.9 L1416.9,979.9 L1418.9,980.0 L1420.9,980.0 L1422.9,980.0 L1424.9,980.0 L1426.9,980.1 L1428.9,980.1 L1430.9,980.1 L1432.9,980.1 L1434.9,980.2 L1436.9,980.2 L1438.9,980.2 L1440.9,980.2 L1442.9,980.3 L1444.9,980.3 L1446.9,980.3 L1448.9,980.3 L1450.9,980.4 L1452.9,980.4 L1454.9,980.4 L1456.9,980.4 L1458.9,980.4 L1460.9,980.5 L1462.9,980.5 L1464.9,980.5 L1466.9,980.5 L1468.9,980.6 L1470.9,980.6 L1472.9,980.6 L1474.9,980.6 L1476.9,980.6 L1478.9,980.7 L1480.9,980.7 L1482.9,980.7 L1484.9,980.7 L1486.9,980.7 L1488.9,980.7 L1490.9,980.8 L1492.9,980.8 L1494.9,980.8 L1496.9,980.8 L1498.9,980.8 L1500.9,980.9 L1502.9,980.9 L1504.9,980.9 L1506.9,980.9 L1508.9,980.9 L1510.9,980.9 L1512.9,981.0 L1514.9,981.0 L1516.9,981.0 L1518.9,981.0 L1519.6,981.0" stroke="#0000ff" stroke-width="3" stroke-dasharray="8.3 12.9" stroke-dashoffset="12.6" stroke-linecap="round"/>
<path id="c-mag" d="M52.9,984.3 L54.9,984.3 L56.9,984.3 L58.9,984.3 L60.9,984.3 L62.9,984.3 L64.9,984.3 L66.9,984.3 L68.9,984.3 L70.9,984.3 L72.9,984.3 L74.9,984.3 L76.9,984.3 L78.9,984.3 L80.9,984.3 L82.9,984.3 L84.9,984.3 L86.9,984.3 L88.9,984.3 L90.9,984.3 L92.9,984.3 L94.9,984.3 L96.9,984.2 L98.9,984.2 L100.9,984.2 L102.9,984.2 L104.9,984.2 L106.9,984.2 L108.9,984.2 L110.9,984.2 L112.9,984.2 L114.9,984.2 L116.9,984.2 L118.9,984.2 L120.9,984.2 L122.9,984.2 L124.9,984.2 L126.9,984.2 L128.9,984.2 L130.9,984.1 L132.9,984.1 L134.9,984.1 L136.9,984.1 L138.9,984.1 L140.9,984.1 L142.9,984.1 L144.9,984.1 L146.9,984.1 L148.9,984.1 L150.9,984.1 L152.9,984.1 L154.9,984.0 L156.9,984.0 L158.9,984.0 L160.9,984.0 L162.9,984.0 L164.9,984.0 L166.9,984.0 L168.9,984.0 L170.9,984.0 L172.9,983.9 L174.9,983.9 L176.9,983.9 L178.9,983.9 L180.9,983.9 L182.9,983.9 L184.9,983.9 L186.9,983.9 L188.9,983.9 L190.9,983.8 L192.9,983.8 L194.9,983.8 L196.9,983.8 L198.9,983.8 L200.9,983.8 L202.9,983.8 L204.9,983.8 L206.9,983.7 L208.9,983.7 L210.9,983.7 L212.9,983.7 L214.9,983.7 L216.9,983.7 L218.9,983.7 L220.9,983.7 L222.9,983.6 L224.9,983.6 L226.9,983.6 L228.9,983.6 L230.9,983.6 L232.9,983.6 L234.9,983.5 L236.9,983.5 L238.9,983.5 L240.9,983.5 L242.9,983.5 L244.9,983.5 L246.9,983.5 L248.9,983.4 L250.9,983.4 L252.9,983.4 L254.9,983.4 L256.9,983.4 L258.9,983.4 L260.9,983.4 L262.9,983.3 L264.9,983.3 L266.9,983.3 L268.9,983.3 L270.9,983.3 L272.9,983.3 L274.9,983.2 L276.9,983.2 L278.9,983.2 L280.9,983.2 L282.9,983.2 L284.9,983.2 L286.9,983.1 L288.9,983.1 L290.9,983.1 L292.9,983.1 L294.9,983.1 L296.9,983.1 L298.9,983.0 L300.9,983.0 L302.9,983.0 L304.9,983.0 L306.9,983.0 L308.9,982.9 L310.9,982.9 L312.9,982.9 L314.9,982.9 L316.9,982.9 L318.9,982.9 L320.9,982.8 L322.9,982.8 L324.9,982.8 L326.9,982.8 L328.9,982.8 L330.9,982.8 L332.9,982.7 L334.9,982.7 L336.9,982.7 L338.9,982.7 L340.9,982.7 L342.9,982.6 L344.9,982.6 L346.9,982.6 L348.9,982.6 L350.9,982.6 L352.9,982.6 L354.9,982.5 L356.9,982.5 L358.9,982.5 L360.9,982.5 L362.9,982.5 L364.9,982.4 L366.9,982.4 L368.9,982.4 L370.9,982.4 L372.9,982.4 L374.9,982.3 L376.9,982.3 L378.9,982.3 L380.9,982.3 L382.9,982.3 L384.9,982.3 L386.9,982.2 L388.9,982.2 L390.9,982.2 L392.9,982.2 L394.9,982.2 L396.9,982.1 L398.9,982.1 L400.9,982.1 L402.9,982.1 L404.9,982.0 L406.9,982.0 L408.9,982.0 L410.9,982.0 L412.9,981.9 L414.9,981.9 L416.9,981.9 L418.9,981.9 L420.9,981.8 L422.9,981.8 L424.9,981.8 L426.9,981.8 L428.9,981.7 L430.9,981.7 L432.9,981.7 L434.9,981.7 L436.9,981.6 L438.9,981.6 L440.9,981.6 L442.9,981.5 L444.9,981.5 L446.9,981.5 L448.9,981.4 L450.9,981.4 L452.9,981.4 L454.9,981.3 L456.9,981.3 L458.9,981.3 L460.9,981.2 L462.9,981.2 L464.9,981.1 L466.9,981.1 L468.9,981.1 L470.9,981.0 L472.9,981.0 L474.9,980.9 L476.9,980.9 L478.9,980.9 L480.9,980.8 L482.9,980.8 L484.9,980.7 L486.9,980.7 L488.9,980.6 L490.9,980.6 L492.9,980.5 L494.9,980.5 L496.9,980.4 L498.9,980.4 L500.9,980.3 L502.9,980.2 L504.9,980.2 L506.9,980.1 L508.9,980.0 L510.9,980.0 L512.9,979.9 L514.9,979.8 L516.9,979.7 L518.9,979.7 L520.9,979.6 L522.9,979.5 L524.9,979.4 L526.9,979.3 L528.9,979.2 L530.9,979.1 L532.9,979.0 L534.9,978.9 L536.9,978.8 L538.9,978.6 L540.9,978.5 L542.9,978.3 L544.9,978.1 L546.9,978.0 L548.9,977.8 L550.9,977.6 L552.9,977.4 L554.9,977.2 L556.9,977.0 L558.9,976.7 L560.9,976.5 L562.9,976.3 L564.9,976.1 L566.9,975.9 L568.9,975.7 L570.9,975.5 L572.9,975.3 L574.9,975.1 L576.9,974.9 L578.9,974.7 L580.9,974.5 L582.9,974.3 L584.9,974.2 L586.9,974.0 L588.9,973.8 L590.9,973.6 L592.9,973.4 L594.9,973.1 L596.9,972.9 L598.9,972.6 L600.9,972.4 L602.9,972.1 L604.9,971.7 L606.9,971.4 L608.9,971.1 L610.9,970.7 L612.9,970.3 L614.9,969.9 L616.9,969.4 L618.9,969.0 L620.9,968.5 L622.9,968.0 L624.9,967.4 L626.9,966.8 L628.9,966.1 L630.9,965.4 L632.9,964.6 L634.9,963.7 L636.9,962.8 L638.9,961.8 L640.9,960.8 L642.9,959.8 L644.9,958.7 L646.9,957.6 L648.9,956.5 L650.9,955.4 L652.9,954.1 L654.9,952.9 L656.9,951.5 L658.9,950.0 L660.9,948.5 L662.9,946.8 L664.9,945.1 L666.9,943.1 L668.9,940.9 L670.9,938.4 L672.9,935.7 L674.9,932.8 L676.9,929.9 L678.9,926.8 L680.9,923.7 L682.9,920.6 L684.9,917.3 L686.9,913.9 L688.9,910.2 L690.9,906.4 L692.9,902.4 L694.9,898.0 L696.9,893.2 L698.9,888.1 L700.9,882.7 L702.9,877.2 L704.9,871.6 L706.9,866.0 L708.9,860.2 L710.9,854.3 L712.9,848.3 L714.9,842.1 L716.9,835.6 L718.9,828.9 L720.9,822.0 L722.9,814.9 L724.9,807.7 L726.9,800.5 L728.9,793.2 L730.9,785.8 L732.9,778.3 L734.9,770.7 L736.9,763.0 L738.9,755.1 L740.9,747.0 L742.9,738.9 L744.9,730.6 L746.9,722.0 L748.9,713.2 L750.9,704.6 L752.9,696.4 L754.9,688.7 L756.9,680.7 L758.9,672.5 L760.9,664.4 L762.9,656.5 L764.9,649.0 L766.9,641.6 L768.9,634.4 L770.9,627.1 L772.9,619.6 L774.9,612.1 L776.9,605.0 L778.9,598.3 L780.9,591.7 L782.9,585.6 L784.9,580.0 L786.9,575.2 L788.9,570.7 L790.9,566.7 L792.9,563.4 L794.9,560.7 L796.9,558.2 L798.9,556.2 L800.9,555.0 L802.9,554.5 L804.9,554.0 L806.9,553.8 L808.9,554.1 L810.9,555.2 L812.9,556.9 L814.9,558.8 L816.9,561.2 L818.9,564.5 L820.9,568.3 L822.9,572.4 L824.9,577.0 L826.9,582.2 L828.9,587.9 L830.9,593.8 L832.9,600.2 L834.9,607.0 L836.9,614.1 L838.9,621.2 L840.9,628.5 L842.9,636.1 L844.9,644.2 L846.9,652.9 L848.9,661.9 L850.9,670.5 L852.9,679.1 L854.9,687.5 L856.9,694.6 L858.9,699.7 L860.9,706.9 L862.9,715.8 L864.9,725.3 L866.9,734.4 L868.9,743.1 L870.9,751.8 L872.9,760.4 L874.9,768.8 L876.9,777.1 L878.9,785.4 L880.9,793.6 L882.9,801.6 L884.9,809.2 L886.9,816.3 L888.9,823.1 L890.9,829.6 L892.9,836.0 L894.9,842.1 L896.9,848.3 L898.9,854.3 L900.9,860.3 L902.9,866.2 L904.9,871.7 L906.9,877.0 L908.9,882.0 L910.9,886.7 L912.9,891.3 L914.9,895.7 L916.9,899.9 L918.9,904.0 L920.9,908.0 L922.9,911.9 L924.9,915.7 L926.9,919.4 L928.9,922.9 L930.9,926.2 L932.9,929.3 L934.9,932.2 L936.9,935.1 L938.9,937.8 L940.9,940.4 L942.9,942.8 L944.9,945.1 L946.9,947.2 L948.9,949.0 L950.9,950.8 L952.9,952.5 L954.9,954.1 L956.9,955.6 L958.9,957.0 L960.9,958.3 L962.9,959.5 L964.9,960.6 L966.9,961.5 L968.9,962.4 L970.9,963.2 L972.9,964.0 L974.9,964.7 L976.9,965.4 L978.9,966.0 L980.9,966.6 L982.9,967.2 L984.9,967.8 L986.9,968.3 L988.9,968.8 L990.9,969.3 L992.9,969.8 L994.9,970.3 L996.9,970.7 L998.9,971.1 L1000.9,971.6 L1002.9,972.0 L1004.9,972.4 L1006.9,972.7 L1008.9,973.1 L1010.9,973.4 L1012.9,973.7 L1014.9,974.0 L1016.9,974.2 L1018.9,974.5 L1020.9,974.7 L1022.9,975.0 L1024.9,975.2 L1026.9,975.4 L1028.9,975.6 L1030.9,975.8 L1032.9,976.0 L1034.9,976.2 L1036.9,976.4 L1038.9,976.6 L1040.9,976.7 L1042.9,976.9 L1044.9,977.0 L1046.9,977.2 L1048.9,977.3 L1050.9,977.4 L1052.9,977.5 L1054.9,977.6 L1056.9,977.8 L1058.9,977.9 L1060.9,978.0 L1062.9,978.1 L1064.9,978.2 L1066.9,978.3 L1068.9,978.4 L1070.9,978.4 L1072.9,978.5 L1074.9,978.6 L1076.9,978.7 L1078.9,978.8 L1080.9,978.8 L1082.9,978.9 L1084.9,979.0 L1086.9,979.0 L1088.9,979.1 L1090.9,979.2 L1092.9,979.2 L1094.9,979.3 L1096.9,979.3 L1098.9,979.4 L1100.9,979.4 L1102.9,979.5 L1104.9,979.5 L1106.9,979.6 L1108.9,979.6 L1110.9,979.7 L1112.9,979.7 L1114.9,979.7 L1116.9,979.8 L1118.9,979.8 L1120.9,979.9 L1122.9,979.9 L1124.9,980.0 L1126.9,980.0 L1128.9,980.0 L1130.9,980.1 L1132.9,980.1 L1134.9,980.2 L1136.9,980.2 L1138.9,980.3 L1140.9,980.3 L1142.9,980.4 L1144.9,980.4 L1146.9,980.5 L1148.9,980.5 L1150.9,980.6 L1152.9,980.6 L1154.9,980.7 L1156.9,980.7 L1158.9,980.8 L1160.9,980.8 L1162.9,980.9 L1164.9,980.9 L1166.9,981.0 L1168.9,981.1 L1170.9,981.1 L1172.9,981.2 L1174.9,981.2 L1176.9,981.3 L1178.9,981.3 L1180.9,981.4 L1182.9,981.4 L1184.9,981.5 L1186.9,981.5 L1188.9,981.6 L1190.9,981.6 L1192.9,981.7 L1194.9,981.7 L1196.9,981.8 L1198.9,981.9 L1200.9,981.9 L1202.9,982.0 L1204.9,982.0 L1206.9,982.1 L1208.9,982.1 L1210.9,982.2 L1212.9,982.2 L1214.9,982.3 L1216.9,982.3 L1218.9,982.4 L1220.9,982.4 L1222.9,982.5 L1224.9,982.5 L1226.9,982.6 L1228.9,982.6 L1230.9,982.7 L1232.9,982.8 L1234.9,982.8 L1236.9,982.9 L1238.9,982.9 L1240.9,983.0 L1242.9,983.1 L1244.9,983.1 L1246.9,983.2 L1248.9,983.2 L1250.9,983.3 L1252.9,983.4 L1254.9,983.4 L1256.9,983.5 L1258.9,983.5 L1260.9,983.6 L1262.9,983.6 L1264.9,983.7 L1266.9,983.7 L1268.9,983.8 L1270.9,983.8 L1272.9,983.9 L1274.9,983.9 L1276.9,983.9 L1278.9,984.0 L1280.9,984.0 L1282.9,984.0 L1284.9,984.1 L1286.9,984.1 L1288.9,984.1 L1290.9,984.1 L1292.9,984.1 L1294.9,984.1 L1296.9,984.1 L1298.9,984.1 L1300.9,984.1 L1302.9,984.1 L1304.9,984.1 L1306.9,984.1 L1308.9,984.1 L1310.9,984.1 L1312.9,984.1 L1314.9,984.1 L1316.9,984.1 L1318.9,984.1 L1320.9,984.2 L1322.9,984.2 L1324.9,984.2 L1326.9,984.2 L1328.9,984.2 L1330.9,984.2 L1332.9,984.2 L1334.9,984.2 L1336.9,984.2 L1338.9,984.2 L1340.9,984.2 L1342.9,984.2 L1344.9,984.2 L1346.9,984.2 L1348.9,984.2 L1350.9,984.2 L1352.9,984.2 L1354.9,984.2 L1356.9,984.2 L1358.9,984.2 L1360.9,984.2 L1362.9,984.2 L1364.9,984.2 L1366.9,984.2 L1368.9,984.2 L1370.9,984.2 L1372.9,984.2 L1374.9,984.2 L1376.9,984.2 L1378.9,984.2 L1380.9,984.2 L1382.9,984.2 L1384.9,984.2 L1386.9,984.2 L1388.9,984.2 L1390.9,984.2 L1392.9,984.2 L1394.9,984.2 L1396.9,984.2 L1398.9,984.3 L1400.9,984.3 L1402.9,984.3 L1404.9,984.3 L1406.9,984.3 L1408.9,984.3 L1410.9,984.3 L1412.9,984.3 L1414.9,984.3 L1416.9,984.3 L1418.9,984.3 L1420.9,984.3 L1422.9,984.3 L1424.9,984.3 L1426.9,984.3 L1428.9,984.3 L1430.9,984.3 L1432.9,984.3 L1434.9,984.3 L1436.9,984.3 L1438.9,984.3 L1440.9,984.3 L1442.9,984.3 L1444.9,984.3 L1446.9,984.3 L1448.9,984.3 L1450.9,984.3 L1452.9,984.3 L1454.9,984.3 L1456.9,984.3 L1458.9,984.3 L1460.9,984.3 L1462.9,984.3 L1464.9,984.3 L1466.9,984.3 L1468.9,984.3 L1470.9,984.3 L1472.9,984.3 L1474.9,984.3 L1476.9,984.3 L1478.9,984.3 L1480.9,984.3 L1482.9,984.3 L1484.9,984.3 L1486.9,984.3 L1488.9,984.3 L1490.9,984.3 L1492.9,984.3 L1494.9,984.3 L1496.9,984.3 L1498.9,984.3 L1500.9,984.3 L1502.9,984.3 L1504.9,984.3 L1506.9,984.3 L1508.9,984.3 L1510.9,984.3 L1512.9,984.3 L1514.9,984.3 L1516.9,984.3 L1518.9,984.3 L1519.6,984.3" stroke="#ff00ff" stroke-width="3" stroke-dasharray="8.3 12.9" stroke-dashoffset="12.6" stroke-linecap="round"/>
<path id="c-cyan" d="M52.9,983.6 L54.9,983.6 L56.9,983.6 L58.9,983.6 L60.9,983.6 L62.9,983.6 L64.9,983.6 L66.9,983.6 L68.9,983.6 L70.9,983.6 L72.9,983.6 L74.9,983.6 L76.9,983.6 L78.9,983.6 L80.9,983.6 L82.9,983.6 L84.9,983.6 L86.9,983.6 L88.9,983.6 L90.9,983.6 L92.9,983.6 L94.9,983.6 L96.9,983.5 L98.9,983.5 L100.9,983.5 L102.9,983.5 L104.9,983.5 L106.9,983.5 L108.9,983.5 L110.9,983.5 L112.9,983.5 L114.9,983.5 L116.9,983.5 L118.9,983.5 L120.9,983.5 L122.9,983.5 L124.9,983.5 L126.9,983.5 L128.9,983.4 L130.9,983.4 L132.9,983.4 L134.9,983.4 L136.9,983.4 L138.9,983.4 L140.9,983.4 L142.9,983.4 L144.9,983.4 L146.9,983.4 L148.9,983.4 L150.9,983.4 L152.9,983.3 L154.9,983.3 L156.9,983.3 L158.9,983.3 L160.9,983.3 L162.9,983.3 L164.9,983.3 L166.9,983.3 L168.9,983.3 L170.9,983.2 L172.9,983.2 L174.9,983.2 L176.9,983.2 L178.9,983.2 L180.9,983.2 L182.9,983.2 L184.9,983.2 L186.9,983.2 L188.9,983.1 L190.9,983.1 L192.9,983.1 L194.9,983.1 L196.9,983.1 L198.9,983.1 L200.9,983.1 L202.9,983.1 L204.9,983.0 L206.9,983.0 L208.9,983.0 L210.9,983.0 L212.9,983.0 L214.9,983.0 L216.9,983.0 L218.9,982.9 L220.9,982.9 L222.9,982.9 L224.9,982.9 L226.9,982.9 L228.9,982.9 L230.9,982.9 L232.9,982.8 L234.9,982.8 L236.9,982.8 L238.9,982.8 L240.9,982.8 L242.9,982.8 L244.9,982.7 L246.9,982.7 L248.9,982.7 L250.9,982.7 L252.9,982.7 L254.9,982.7 L256.9,982.6 L258.9,982.6 L260.9,982.6 L262.9,982.6 L264.9,982.6 L266.9,982.6 L268.9,982.5 L270.9,982.5 L272.9,982.5 L274.9,982.5 L276.9,982.5 L278.9,982.5 L280.9,982.4 L282.9,982.4 L284.9,982.4 L286.9,982.4 L288.9,982.4 L290.9,982.4 L292.9,982.3 L294.9,982.3 L296.9,982.3 L298.9,982.3 L300.9,982.3 L302.9,982.2 L304.9,982.2 L306.9,982.2 L308.9,982.2 L310.9,982.2 L312.9,982.2 L314.9,982.1 L316.9,982.1 L318.9,982.1 L320.9,982.1 L322.9,982.1 L324.9,982.0 L326.9,982.0 L328.9,982.0 L330.9,982.0 L332.9,982.0 L334.9,981.9 L336.9,981.9 L338.9,981.9 L340.9,981.9 L342.9,981.9 L344.9,981.8 L346.9,981.8 L348.9,981.8 L350.9,981.8 L352.9,981.8 L354.9,981.7 L356.9,981.7 L358.9,981.7 L360.9,981.7 L362.9,981.7 L364.9,981.7 L366.9,981.6 L368.9,981.6 L370.9,981.6 L372.9,981.6 L374.9,981.6 L376.9,981.5 L378.9,981.5 L380.9,981.5 L382.9,981.5 L384.9,981.4 L386.9,981.4 L388.9,981.4 L390.9,981.4 L392.9,981.4 L394.9,981.3 L396.9,981.3 L398.9,981.3 L400.9,981.3 L402.9,981.2 L404.9,981.2 L406.9,981.2 L408.9,981.2 L410.9,981.1 L412.9,981.1 L414.9,981.1 L416.9,981.0 L418.9,981.0 L420.9,981.0 L422.9,980.9 L424.9,980.9 L426.9,980.9 L428.9,980.8 L430.9,980.8 L432.9,980.8 L434.9,980.7 L436.9,980.7 L438.9,980.7 L440.9,980.6 L442.9,980.6 L444.9,980.5 L446.9,980.5 L448.9,980.5 L450.9,980.4 L452.9,980.4 L454.9,980.3 L456.9,980.3 L458.9,980.2 L460.9,980.2 L462.9,980.1 L464.9,980.1 L466.9,980.0 L468.9,980.0 L470.9,979.9 L472.9,979.8 L474.9,979.8 L476.9,979.7 L478.9,979.6 L480.9,979.5 L482.9,979.5 L484.9,979.4 L486.9,979.3 L488.9,979.2 L490.9,979.2 L492.9,979.1 L494.9,979.0 L496.9,978.9 L498.9,978.8 L500.9,978.8 L502.9,978.7 L504.9,978.6 L506.9,978.5 L508.9,978.4 L510.9,978.4 L512.9,978.3 L514.9,978.2 L516.9,978.1 L518.9,978.1 L520.9,978.0 L522.9,977.9 L524.9,977.8 L526.9,977.7 L528.9,977.7 L530.9,977.6 L532.9,977.5 L534.9,977.4 L536.9,977.3 L538.9,977.2 L540.9,977.2 L542.9,977.1 L544.9,977.0 L546.9,976.9 L548.9,976.8 L550.9,976.7 L552.9,976.6 L554.9,976.5 L556.9,976.5 L558.9,976.4 L560.9,976.3 L562.9,976.2 L564.9,976.1 L566.9,976.0 L568.9,975.9 L570.9,975.8 L572.9,975.8 L574.9,975.7 L576.9,975.6 L578.9,975.5 L580.9,975.4 L582.9,975.3 L584.9,975.2 L586.9,975.1 L588.9,975.0 L590.9,974.9 L592.9,974.8 L594.9,974.7 L596.9,974.6 L598.9,974.5 L600.9,974.4 L602.9,974.3 L604.9,974.1 L606.9,974.0 L608.9,973.9 L610.9,973.8 L612.9,973.7 L614.9,973.5 L616.9,973.4 L618.9,973.3 L620.9,973.2 L622.9,973.0 L624.9,972.9 L626.9,972.7 L628.9,972.6 L630.9,972.4 L632.9,972.3 L634.9,972.1 L636.9,971.9 L638.9,971.7 L640.9,971.5 L642.9,971.3 L644.9,971.1 L646.9,970.9 L648.9,970.7 L650.9,970.5 L652.9,970.2 L654.9,970.0 L656.9,969.8 L658.9,969.5 L660.9,969.2 L662.9,969.0 L664.9,968.7 L666.9,968.4 L668.9,968.1 L670.9,967.8 L672.9,967.5 L674.9,967.2 L676.9,966.9 L678.9,966.5 L680.9,966.2 L682.9,965.8 L684.9,965.4 L686.9,965.0 L688.9,964.6 L690.9,964.1 L692.9,963.7 L694.9,963.2 L696.9,962.8 L698.9,962.3 L700.9,961.8 L702.9,961.3 L704.9,960.8 L706.9,960.2 L708.9,959.7 L710.9,959.1 L712.9,958.5 L714.9,957.8 L716.9,957.2 L718.9,956.5 L720.9,955.9 L722.9,955.2 L724.9,954.4 L726.9,953.7 L728.9,952.9 L730.9,952.2 L732.9,951.3 L734.9,950.5 L736.9,949.6 L738.9,948.7 L740.9,947.7 L742.9,946.7 L744.9,945.7 L746.9,944.6 L748.9,943.4 L750.9,942.2 L752.9,940.9 L754.9,939.6 L756.9,938.1 L758.9,936.6 L760.9,935.0 L762.9,933.3 L764.9,931.6 L766.9,929.7 L768.9,927.7 L770.9,925.5 L772.9,923.0 L774.9,920.4 L776.9,917.6 L778.9,914.7 L780.9,911.6 L782.9,908.2 L784.9,904.6 L786.9,900.7 L788.9,896.5 L790.9,892.0 L792.9,887.0 L794.9,881.7 L796.9,875.9 L798.9,870.0 L800.9,864.0 L802.9,858.0 L804.9,852.0 L806.9,846.0 L808.9,839.9 L810.9,833.6 L812.9,827.0 L814.9,820.1 L816.9,812.7 L818.9,804.6 L820.9,796.1 L822.9,787.2 L824.9,778.3 L826.9,769.5 L828.9,760.6 L830.9,751.6 L832.9,742.3 L834.9,732.6 L836.9,722.4 L838.9,711.7 L840.9,701.0 L842.9,690.8 L844.9,680.0 L846.9,668.7 L848.9,657.0 L850.9,645.1 L852.9,633.0 L854.9,620.6 L856.9,607.9 L858.9,594.9 L860.9,581.4 L862.9,567.8 L864.9,554.3 L866.9,540.9 L868.9,527.5 L870.9,514.0 L872.9,500.2 L874.9,486.2 L876.9,472.6 L878.9,459.8 L880.9,447.8 L882.9,436.0 L884.9,423.8 L886.9,410.7 L888.9,397.0 L890.9,386.4 L892.9,377.0 L894.9,365.7 L896.9,357.0 L898.9,348.3 L900.9,340.2 L902.9,334.5 L904.9,330.2 L906.9,325.5 L908.9,321.0 L910.9,318.0 L912.9,316.2 L914.9,315.0 L916.9,314.2 L918.9,313.6 L920.9,314.3 L922.9,316.9 L924.9,321.8 L926.9,327.9 L928.9,334.3 L930.9,340.2 L932.9,346.7 L934.9,354.5 L936.9,365.0 L938.9,375.3 L940.9,385.7 L942.9,394.9 L944.9,409.7 L946.9,419.5 L948.9,429.0 L950.9,438.1 L952.9,447.5 L954.9,457.9 L956.9,470.3 L958.9,484.7 L960.9,500.1 L962.9,515.3 L964.9,530.1 L966.9,545.1 L968.9,560.0 L970.9,574.3 L972.9,588.0 L974.9,601.3 L976.9,614.5 L978.9,627.8 L980.9,641.8 L982.9,655.7 L984.9,668.5 L986.9,679.3 L988.9,688.0 L990.9,696.9 L992.9,708.5 L994.9,722.2 L996.9,734.8 L998.9,745.7 L1000.9,755.9 L1002.9,765.4 L1004.9,774.4 L1006.9,782.9 L1008.9,791.0 L1010.9,798.7 L1012.9,806.3 L1014.9,813.7 L1016.9,821.1 L1018.9,828.2 L1020.9,835.1 L1022.9,841.5 L1024.9,847.4 L1026.9,853.1 L1028.9,858.4 L1030.9,863.6 L1032.9,868.6 L1034.9,873.4 L1036.9,878.3 L1038.9,883.0 L1040.9,887.7 L1042.9,892.1 L1044.9,896.3 L1046.9,900.2 L1048.9,903.8 L1050.9,907.2 L1052.9,910.4 L1054.9,913.5 L1056.9,916.4 L1058.9,919.2 L1060.9,921.8 L1062.9,924.3 L1064.9,926.7 L1066.9,929.0 L1068.9,931.2 L1070.9,933.3 L1072.9,935.4 L1074.9,937.3 L1076.9,939.1 L1078.9,940.7 L1080.9,942.2 L1082.9,943.6 L1084.9,945.0 L1086.9,946.2 L1088.9,947.4 L1090.9,948.6 L1092.9,949.7 L1094.9,950.7 L1096.9,951.7 L1098.9,952.6 L1100.9,953.5 L1102.9,954.3 L1104.9,955.1 L1106.9,955.8 L1108.9,956.6 L1110.9,957.2 L1112.9,957.9 L1114.9,958.6 L1116.9,959.2 L1118.9,959.7 L1120.9,960.3 L1122.9,960.8 L1124.9,961.3 L1126.9,961.8 L1128.9,962.3 L1130.9,962.8 L1132.9,963.3 L1134.9,963.7 L1136.9,964.1 L1138.9,964.5 L1140.9,964.9 L1142.9,965.3 L1144.9,965.6 L1146.9,965.9 L1148.9,966.1 L1150.9,966.4 L1152.9,966.5 L1154.9,966.7 L1156.9,966.9 L1158.9,967.0 L1160.9,967.1 L1162.9,967.3 L1164.9,967.4 L1166.9,967.6 L1168.9,967.8 L1170.9,968.0 L1172.9,968.2 L1174.9,968.4 L1176.9,968.6 L1178.9,968.8 L1180.9,969.0 L1182.9,969.2 L1184.9,969.4 L1186.9,969.6 L1188.9,969.9 L1190.9,970.1 L1192.9,970.3 L1194.9,970.6 L1196.9,970.8 L1198.9,971.1 L1200.9,971.4 L1202.9,971.7 L1204.9,971.9 L1206.9,972.2 L1208.9,972.5 L1210.9,972.8 L1212.9,973.0 L1214.9,973.2 L1216.9,973.5 L1218.9,973.7 L1220.9,973.9 L1222.9,974.1 L1224.9,974.3 L1226.9,974.5 L1228.9,974.7 L1230.9,974.8 L1232.9,975.0 L1234.9,975.2 L1236.9,975.4 L1238.9,975.6 L1240.9,975.7 L1242.9,975.9 L1244.9,976.0 L1246.9,976.2 L1248.9,976.3 L1250.9,976.5 L1252.9,976.6 L1254.9,976.7 L1256.9,976.8 L1258.9,977.0 L1260.9,977.1 L1262.9,977.2 L1264.9,977.3 L1266.9,977.4 L1268.9,977.5 L1270.9,977.6 L1272.9,977.7 L1274.9,977.8 L1276.9,977.9 L1278.9,978.0 L1280.9,978.1 L1282.9,978.1 L1284.9,978.2 L1286.9,978.3 L1288.9,978.4 L1290.9,978.4 L1292.9,978.5 L1294.9,978.6 L1296.9,978.6 L1298.9,978.7 L1300.9,978.7 L1302.9,978.8 L1304.9,978.9 L1306.9,978.9 L1308.9,979.0 L1310.9,979.0 L1312.9,979.1 L1314.9,979.1 L1316.9,979.2 L1318.9,979.2 L1320.9,979.3 L1322.9,979.3 L1324.9,979.4 L1326.9,979.4 L1328.9,979.5 L1330.9,979.5 L1332.9,979.5 L1334.9,979.6 L1336.9,979.6 L1338.9,979.7 L1340.9,979.7 L1342.9,979.8 L1344.9,979.8 L1346.9,979.8 L1348.9,979.9 L1350.9,979.9 L1352.9,980.0 L1354.9,980.0 L1356.9,980.0 L1358.9,980.1 L1360.9,980.1 L1362.9,980.2 L1364.9,980.2 L1366.9,980.2 L1368.9,980.3 L1370.9,980.3 L1372.9,980.4 L1374.9,980.4 L1376.9,980.5 L1378.9,980.5 L1380.9,980.6 L1382.9,980.6 L1384.9,980.6 L1386.9,980.7 L1388.9,980.7 L1390.9,980.8 L1392.9,980.8 L1394.9,980.9 L1396.9,980.9 L1398.9,981.0 L1400.9,981.0 L1402.9,981.1 L1404.9,981.1 L1406.9,981.1 L1408.9,981.2 L1410.9,981.2 L1412.9,981.3 L1414.9,981.3 L1416.9,981.4 L1418.9,981.4 L1420.9,981.4 L1422.9,981.5 L1424.9,981.5 L1426.9,981.5 L1428.9,981.6 L1430.9,981.6 L1432.9,981.6 L1434.9,981.7 L1436.9,981.7 L1438.9,981.7 L1440.9,981.7 L1442.9,981.8 L1444.9,981.8 L1446.9,981.8 L1448.9,981.8 L1450.9,981.9 L1452.9,981.9 L1454.9,981.9 L1456.9,981.9 L1458.9,981.9 L1460.9,981.9 L1462.9,982.0 L1464.9,982.0 L1466.9,982.0 L1468.9,982.0 L1470.9,982.0 L1472.9,982.1 L1474.9,982.1 L1476.9,982.1 L1478.9,982.1 L1480.9,982.1 L1482.9,982.1 L1484.9,982.2 L1486.9,982.2 L1488.9,982.2 L1490.9,982.2 L1492.9,982.2 L1494.9,982.2 L1496.9,982.2 L1498.9,982.2 L1500.9,982.3 L1502.9,982.3 L1504.9,982.3 L1506.9,982.3 L1508.9,982.3 L1510.9,982.3 L1512.9,982.3 L1514.9,982.3 L1516.9,982.3 L1518.9,982.3 L1519.6,982.3" stroke="#00ffff" stroke-width="3" stroke-dasharray="8.3 12.9" stroke-dashoffset="12.6" stroke-linecap="round"/>
</g>
<!--/CURVES-->
<!-- callouts -->
<g id="callouts" fill="none" stroke-width="2.9" stroke-linejoin="miter">
<rect x="247.4" y="385.3" width="260.3" height="82.8" stroke="#2e2ed0"/>
<polyline points="509,427.3 604.5,425.6 676,511" stroke="#2e2ed0"/>
<polygon points="678.3,499.6 664,510.7 682.6,519.1" fill="#3333cc" stroke="none"/>
<rect x="1199.4" y="140.4" width="260.6" height="82.8" stroke="#ff00ff"/>
<polyline points="1198.1,180.4 1132.3,180.4 831.3,547.5" stroke="#ff00ff"/>
<polygon points="824.2,556.3 828.5,537.2 843.3,547.4" fill="#ff00ff" stroke="none"/>
<rect x="1199.4" y="281.3" width="274.6" height="83.3" stroke="#00b0f0"/>
<polyline points="1198.1,321.3 1129.3,321.3 984,493" stroke="#00b0f0"/>
<polygon points="977.1,501 982.2,482.4 996.2,493.4" fill="#00b0f0" stroke="none"/>
</g>
<g id="calltext" font-size="67.5" text-anchor="middle">
<text id="s3" transform="translate(377.2,451) scale(0.937,1)" fill="#2e2ed0">Stage 3</text>
<text id="s2" transform="translate(1330.2,206.1) scale(0.947,1)" fill="#ff00ff">Stage 2</text>
<text id="s2l" transform="translate(1338.2,346.2) scale(0.964,1)" fill="#00b0f0">Stage 2L</text>
</g>
<!-- labels -->
<g id="ticks" font-size="59.3" text-anchor="middle" fill="#000">
<text id="t1" transform="translate(52.8,1070.8) scale(0.961,1)">0.34</text>
<text id="t2" transform="translate(419.5,1070.8) scale(0.961,1)">0.345</text>
<text id="t3" transform="translate(785,1070.8) scale(0.961,1)">0.35</text>
<text id="t4" transform="translate(1152,1070.8) scale(0.961,1)">0.355</text>
<text id="t5" transform="translate(1518.5,1070.8) scale(0.961,1)">0.36</text>
</g>
<text id="title" transform="translate(318.8,49.3) scale(0.962,1)" font-size="65.5" letter-spacing="0.26" fill="#000">00<tspan font-style="italic">n</tspan> diffractions of stages <tspan font-style="italic">n</tspan> in LiC<tspan font-size="43.4" dy="14">22.01</tspan></text>
<text id="xlabel" transform="translate(607,1155) scale(0.964,1)" font-size="77.8" fill="#000"><tspan font-style="italic">d</tspan> value/nm</text>
</svg>
</body></html>
